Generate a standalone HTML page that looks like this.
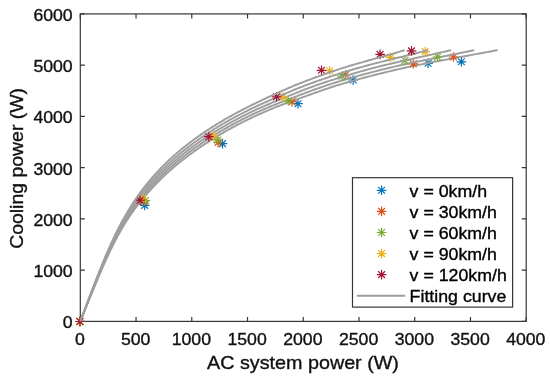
<!DOCTYPE html>
<html><head><meta charset="utf-8"><title>Cooling power vs AC system power</title>
<style>html,body{margin:0;padding:0;background:#fff}body{width:550px;height:380px;overflow:hidden}</style></head>
<body>
<svg width="550" height="380" viewBox="0 0 550 380" style="display:block">
<rect width="550" height="380" fill="#fff"/>
<rect x="80.3" y="13.9" width="445.90" height="307.50" fill="none" stroke="#363636" stroke-width="1.2"/>
<path d="M80.30 321.4V316.9M80.30 13.9V18.4M136.04 321.4V316.9M136.04 13.9V18.4M191.78 321.4V316.9M191.78 13.9V18.4M247.51 321.4V316.9M247.51 13.9V18.4M303.25 321.4V316.9M303.25 13.9V18.4M358.99 321.4V316.9M358.99 13.9V18.4M414.73 321.4V316.9M414.73 13.9V18.4M470.46 321.4V316.9M470.46 13.9V18.4M526.20 321.4V316.9M526.20 13.9V18.4M80.3 321.40H84.8M526.2 321.40H521.7M80.3 270.15H84.8M526.2 270.15H521.7M80.3 218.90H84.8M526.2 218.90H521.7M80.3 167.65H84.8M526.2 167.65H521.7M80.3 116.40H84.8M526.2 116.40H521.7M80.3 65.15H84.8M526.2 65.15H521.7M80.3 13.90H84.8M526.2 13.90H521.7" stroke="#363636" stroke-width="1.2" fill="none"/>
<g>
<path d="M75.10 321.50H84.70M79.90 316.70V326.30M76.51 318.11L83.29 324.89M76.51 324.89L83.29 318.11" stroke="#0072BD" stroke-width="1.2" fill="none"/>
<path d="M139.90 205.40H149.50M144.70 200.60V210.20M141.31 202.01L148.09 208.79M141.31 208.79L148.09 202.01" stroke="#0072BD" stroke-width="1.2" fill="none"/>
<path d="M217.70 143.60H227.30M222.50 138.80V148.40M219.11 140.21L225.89 146.99M219.11 146.99L225.89 140.21" stroke="#0072BD" stroke-width="1.2" fill="none"/>
<path d="M293.20 103.70H302.80M298.00 98.90V108.50M294.61 100.31L301.39 107.09M294.61 107.09L301.39 100.31" stroke="#0072BD" stroke-width="1.2" fill="none"/>
<path d="M348.40 80.00H358.00M353.20 75.20V84.80M349.81 76.61L356.59 83.39M349.81 83.39L356.59 76.61" stroke="#0072BD" stroke-width="1.2" fill="none"/>
<path d="M423.30 63.30H432.90M428.10 58.50V68.10M424.71 59.91L431.49 66.69M424.71 66.69L431.49 59.91" stroke="#0072BD" stroke-width="1.2" fill="none"/>
<path d="M456.60 61.80H466.20M461.40 57.00V66.60M458.01 58.41L464.79 65.19M458.01 65.19L464.79 58.41" stroke="#0072BD" stroke-width="1.2" fill="none"/>
<path d="M80.30 321.40 L80.58 320.72 L80.85 320.04 L81.13 319.36 L81.40 318.68 L81.68 318.00 L81.95 317.32 L82.23 316.64 L82.50 315.96 L82.78 315.28 L83.06 314.60 L83.33 313.92 L83.61 313.24 L83.88 312.56 L84.16 311.88 L84.43 311.20 L84.71 310.52 L84.99 309.84 L85.26 309.16 L85.54 308.48 L85.81 307.80 L86.09 307.12 L86.36 306.44 L86.64 305.76 L86.92 305.08 L87.19 304.40 L87.47 303.72 L87.75 303.04 L88.02 302.36 L88.30 301.68 L88.57 301.00 L88.85 300.32 L89.13 299.64 L89.41 298.96 L89.68 298.28 L89.96 297.60 L90.24 296.92 L90.51 296.24 L90.79 295.56 L91.07 294.88 L91.35 294.20 L91.63 293.52 L91.90 292.84 L92.18 292.16 L92.46 291.48 L92.74 290.80 L93.02 290.12 L93.30 289.44 L93.58 288.76 L93.86 288.08 L94.14 287.40 L94.42 286.72 L94.70 286.04 L94.98 285.36 L95.27 284.68 L95.55 284.00 L95.83 283.32 L96.11 282.64 L96.40 281.96 L96.68 281.28 L96.96 280.60 L97.25 279.92 L97.53 279.24 L97.82 278.56 L98.11 277.88 L98.39 277.20 L98.68 276.52 L98.97 275.84 L99.25 275.16 L99.54 274.48 L99.83 273.80 L100.12 273.12 L100.41 272.44 L100.70 271.76 L100.99 271.08 L101.29 270.40 L101.58 269.72 L101.87 269.04 L102.17 268.36 L102.46 267.68 L102.76 267.00 L103.06 266.32 L103.36 265.64 L103.66 264.96 L103.96 264.28 L104.26 263.60 L104.57 262.92 L104.87 262.24 L105.18 261.56 L105.48 260.88 L105.79 260.20 L106.10 259.52 L106.41 258.84 L106.73 258.16 L107.04 257.48 L107.35 256.80 L107.67 256.12 L107.99 255.44 L108.31 254.76 L108.63 254.08 L108.95 253.40 L109.27 252.72 L109.60 252.04 L109.93 251.36 L110.25 250.68 L110.58 250.00 L110.91 249.32 L111.24 248.64 L111.58 247.96 L111.91 247.28 L112.25 246.60 L112.59 245.92 L112.93 245.24 L113.27 244.56 L113.61 243.88 L113.96 243.20 L114.31 242.52 L114.65 241.84 L115.01 241.16 L115.36 240.48 L115.71 239.80 L116.07 239.12 L116.43 238.44 L116.79 237.76 L117.16 237.08 L117.52 236.40 L117.89 235.72 L118.27 235.04 L118.64 234.36 L119.01 233.68 L119.39 233.00 L119.77 232.32 L120.16 231.64 L120.54 230.96 L120.93 230.28 L121.32 229.60 L121.72 228.92 L122.12 228.24 L122.51 227.56 L122.92 226.88 L123.32 226.20 L123.73 225.52 L124.14 224.84 L124.55 224.16 L124.97 223.48 L125.39 222.80 L125.81 222.12 L126.24 221.44 L126.67 220.76 L127.10 220.08 L127.53 219.40 L127.97 218.72 L128.42 218.04 L128.86 217.36 L129.31 216.68 L129.77 216.00 L130.23 215.32 L130.69 214.64 L131.16 213.96 L131.63 213.28 L132.11 212.60 L132.59 211.92 L133.08 211.24 L133.57 210.56 L134.07 209.88 L134.56 209.20 L135.07 208.52 L135.58 207.84 L136.09 207.16 L136.61 206.48 L137.13 205.80 L137.65 205.12 L138.18 204.44 L138.72 203.76 L139.26 203.08 L139.80 202.40 L140.35 201.72 L140.90 201.04 L141.45 200.36 L142.01 199.68 L142.58 199.00 L143.15 198.32 L143.72 197.64 L144.29 196.96 L144.87 196.28 L145.46 195.60 L146.05 194.92 L146.64 194.24 L147.23 193.56 L147.83 192.88 L148.44 192.20 L149.04 191.52 L149.65 190.84 L150.27 190.16 L150.88 189.48 L151.51 188.80 L152.13 188.12 L152.76 187.44 L153.39 186.76 L154.03 186.08 L154.67 185.40 L155.31 184.72 L155.96 184.04 L156.62 183.36 L157.28 182.68 L157.94 182.00 L158.61 181.32 L159.28 180.64 L159.96 179.96 L160.65 179.28 L161.34 178.60 L162.03 177.92 L162.73 177.24 L163.44 176.56 L164.15 175.88 L164.87 175.20 L165.60 174.52 L166.33 173.84 L167.06 173.16 L167.80 172.48 L168.55 171.80 L169.31 171.12 L170.07 170.44 L170.84 169.76 L171.62 169.08 L172.40 168.40 L173.19 167.72 L173.99 167.04 L174.80 166.36 L175.61 165.68 L176.44 165.00 L177.27 164.32 L178.11 163.64 L178.96 162.96 L179.81 162.28 L180.68 161.60 L181.54 160.92 L182.42 160.24 L183.30 159.56 L184.18 158.88 L185.07 158.20 L185.97 157.52 L186.87 156.84 L187.77 156.16 L188.68 155.48 L189.58 154.80 L190.50 154.12 L191.42 153.44 L192.35 152.76 L193.28 152.08 L194.22 151.40 L195.17 150.72 L196.12 150.04 L197.09 149.36 L198.05 148.68 L199.03 148.00 L200.02 147.32 L201.01 146.64 L202.01 145.96 L203.01 145.28 L204.03 144.60 L205.05 143.92 L206.09 143.24 L207.13 142.56 L208.18 141.88 L209.23 141.20 L210.30 140.52 L211.37 139.84 L212.46 139.16 L213.55 138.48 L214.65 137.80 L215.77 137.12 L216.89 136.44 L218.02 135.76 L219.16 135.08 L220.31 134.40 L221.47 133.72 L222.64 133.04 L223.81 132.36 L225.00 131.68 L226.20 131.00 L227.40 130.32 L228.62 129.64 L229.84 128.96 L231.08 128.28 L232.32 127.60 L233.58 126.92 L234.85 126.24 L236.12 125.56 L237.41 124.88 L238.71 124.20 L240.03 123.52 L241.35 122.84 L242.68 122.16 L244.03 121.48 L245.39 120.80 L246.76 120.12 L248.14 119.44 L249.54 118.76 L250.96 118.08 L252.39 117.40 L253.83 116.72 L255.29 116.04 L256.76 115.36 L258.25 114.68 L259.76 114.00 L261.28 113.32 L262.81 112.64 L264.36 111.96 L265.93 111.28 L267.51 110.60 L269.11 109.92 L270.73 109.24 L272.36 108.56 L274.01 107.88 L275.69 107.20 L277.41 106.52 L279.15 105.84 L280.93 105.16 L282.74 104.48 L284.57 103.80 L286.42 103.12 L288.29 102.44 L290.18 101.76 L292.09 101.08 L294.00 100.40 L295.90 99.72 L297.80 99.04 L299.69 98.36 L301.57 97.68 L303.45 97.00 L305.33 96.32 L307.21 95.64 L309.10 94.96 L310.99 94.28 L312.89 93.60 L314.79 92.92 L316.71 92.24 L318.64 91.56 L320.59 90.88 L322.55 90.20 L324.53 89.52 L326.54 88.84 L328.57 88.16 L330.63 87.48 L332.72 86.80 L334.84 86.12 L337.01 85.44 L339.21 84.76 L341.46 84.08 L343.75 83.40 L346.07 82.72 L348.42 82.04 L350.80 81.36 L353.22 80.68 L355.66 80.00 L358.13 79.32 L360.63 78.64 L363.17 77.96 L365.73 77.28 L368.32 76.60 L370.94 75.92 L373.59 75.24 L376.27 74.56 L378.98 73.88 L381.72 73.20 L384.49 72.52 L387.29 71.84 L390.12 71.16 L392.98 70.48 L395.86 69.80 L398.78 69.12 L401.76 68.44 L404.82 67.76 L407.95 67.08 L411.16 66.40 L414.43 65.72 L417.77 65.04 L421.17 64.36 L424.62 63.68 L428.12 63.00 L431.65 62.32 L435.21 61.64 L438.79 60.96 L442.38 60.28 L445.98 59.60 L449.62 58.92 L453.32 58.24 L457.06 57.56 L460.84 56.88 L464.63 56.20 L468.43 55.52 L472.22 54.84 L475.98 54.16 L479.69 53.48 L483.35 52.80 L486.96 52.12 L490.51 51.44 L494.03 50.76 L497.50 50.08" stroke="#9e9e9e" stroke-width="1.95" fill="none" stroke-linejoin="round"/>
<path d="M75.10 321.50H84.70M79.90 316.70V326.30M76.51 318.11L83.29 324.89M76.51 324.89L83.29 318.11" stroke="#D95319" stroke-width="1.2" fill="none"/>
<path d="M139.30 201.20H148.90M144.10 196.40V206.00M140.71 197.81L147.49 204.59M140.71 204.59L147.49 197.81" stroke="#D95319" stroke-width="1.2" fill="none"/>
<path d="M213.30 142.40H222.90M218.10 137.60V147.20M214.71 139.01L221.49 145.79M214.71 145.79L221.49 139.01" stroke="#D95319" stroke-width="1.2" fill="none"/>
<path d="M287.20 101.70H296.80M292.00 96.90V106.50M288.61 98.31L295.39 105.09M288.61 105.09L295.39 98.31" stroke="#D95319" stroke-width="1.2" fill="none"/>
<path d="M340.80 74.80H350.40M345.60 70.00V79.60M342.21 71.41L348.99 78.19M342.21 78.19L348.99 71.41" stroke="#D95319" stroke-width="1.2" fill="none"/>
<path d="M408.50 63.80H418.10M413.30 59.00V68.60M409.91 60.41L416.69 67.19M409.91 67.19L416.69 60.41" stroke="#D95319" stroke-width="1.2" fill="none"/>
<path d="M448.70 57.00H458.30M453.50 52.20V61.80M450.11 53.61L456.89 60.39M450.11 60.39L456.89 53.61" stroke="#D95319" stroke-width="1.2" fill="none"/>
<path d="M80.30 321.40 L80.57 320.72 L80.84 320.04 L81.11 319.36 L81.38 318.68 L81.65 318.00 L81.92 317.32 L82.19 316.64 L82.46 315.96 L82.73 315.28 L83.00 314.60 L83.27 313.92 L83.55 313.24 L83.82 312.56 L84.09 311.88 L84.36 311.20 L84.63 310.52 L84.90 309.84 L85.17 309.16 L85.44 308.48 L85.71 307.80 L85.98 307.12 L86.25 306.44 L86.52 305.76 L86.79 305.08 L87.06 304.40 L87.34 303.72 L87.61 303.04 L87.88 302.36 L88.15 301.68 L88.42 301.00 L88.69 300.32 L88.96 299.64 L89.24 298.96 L89.51 298.28 L89.78 297.60 L90.05 296.92 L90.33 296.24 L90.60 295.56 L90.87 294.88 L91.14 294.20 L91.42 293.52 L91.69 292.84 L91.96 292.16 L92.24 291.48 L92.51 290.80 L92.79 290.12 L93.06 289.44 L93.33 288.76 L93.61 288.08 L93.88 287.40 L94.16 286.72 L94.44 286.04 L94.71 285.36 L94.99 284.68 L95.27 284.00 L95.54 283.32 L95.82 282.64 L96.10 281.96 L96.38 281.28 L96.66 280.60 L96.94 279.92 L97.21 279.24 L97.50 278.56 L97.78 277.88 L98.06 277.20 L98.34 276.52 L98.62 275.84 L98.90 275.16 L99.19 274.48 L99.47 273.80 L99.75 273.12 L100.04 272.44 L100.32 271.76 L100.61 271.08 L100.90 270.40 L101.18 269.72 L101.47 269.04 L101.76 268.36 L102.05 267.68 L102.34 267.00 L102.64 266.32 L102.93 265.64 L103.22 264.96 L103.52 264.28 L103.81 263.60 L104.11 262.92 L104.41 262.24 L104.71 261.56 L105.01 260.88 L105.31 260.20 L105.62 259.52 L105.92 258.84 L106.22 258.16 L106.53 257.48 L106.84 256.80 L107.15 256.12 L107.46 255.44 L107.77 254.76 L108.08 254.08 L108.40 253.40 L108.71 252.72 L109.03 252.04 L109.35 251.36 L109.67 250.68 L109.99 250.00 L110.31 249.32 L110.64 248.64 L110.96 247.96 L111.29 247.28 L111.62 246.60 L111.95 245.92 L112.28 245.24 L112.61 244.56 L112.95 243.88 L113.28 243.20 L113.62 242.52 L113.96 241.84 L114.30 241.16 L114.65 240.48 L114.99 239.80 L115.34 239.12 L115.69 238.44 L116.04 237.76 L116.40 237.08 L116.75 236.40 L117.11 235.72 L117.47 235.04 L117.83 234.36 L118.20 233.68 L118.57 233.00 L118.94 232.32 L119.31 231.64 L119.68 230.96 L120.06 230.28 L120.44 229.60 L120.82 228.92 L121.20 228.24 L121.59 227.56 L121.98 226.88 L122.37 226.20 L122.77 225.52 L123.16 224.84 L123.57 224.16 L123.97 223.48 L124.37 222.80 L124.78 222.12 L125.19 221.44 L125.61 220.76 L126.03 220.08 L126.45 219.40 L126.87 218.72 L127.30 218.04 L127.73 217.36 L128.16 216.68 L128.60 216.00 L129.04 215.32 L129.49 214.64 L129.94 213.96 L130.39 213.28 L130.85 212.60 L131.31 211.92 L131.78 211.24 L132.25 210.56 L132.72 209.88 L133.20 209.20 L133.68 208.52 L134.17 207.84 L134.66 207.16 L135.16 206.48 L135.65 205.80 L136.16 205.12 L136.66 204.44 L137.17 203.76 L137.69 203.08 L138.21 202.40 L138.73 201.72 L139.26 201.04 L139.79 200.36 L140.32 199.68 L140.86 199.00 L141.40 198.32 L141.95 197.64 L142.50 196.96 L143.05 196.28 L143.61 195.60 L144.17 194.92 L144.74 194.24 L145.31 193.56 L145.88 192.88 L146.46 192.20 L147.04 191.52 L147.62 190.84 L148.21 190.16 L148.80 189.48 L149.40 188.80 L149.99 188.12 L150.60 187.44 L151.20 186.76 L151.81 186.08 L152.43 185.40 L153.05 184.72 L153.67 184.04 L154.30 183.36 L154.93 182.68 L155.57 182.00 L156.21 181.32 L156.86 180.64 L157.51 179.96 L158.17 179.28 L158.83 178.60 L159.50 177.92 L160.18 177.24 L160.85 176.56 L161.54 175.88 L162.23 175.20 L162.92 174.52 L163.63 173.84 L164.33 173.16 L165.05 172.48 L165.77 171.80 L166.49 171.12 L167.22 170.44 L167.96 169.76 L168.71 169.08 L169.46 168.40 L170.22 167.72 L170.98 167.04 L171.76 166.36 L172.54 165.68 L173.33 165.00 L174.12 164.32 L174.93 163.64 L175.74 162.96 L176.55 162.28 L177.38 161.60 L178.21 160.92 L179.04 160.24 L179.89 159.56 L180.73 158.88 L181.59 158.20 L182.44 157.52 L183.31 156.84 L184.17 156.16 L185.04 155.48 L185.92 154.80 L186.80 154.12 L187.68 153.44 L188.58 152.76 L189.48 152.08 L190.38 151.40 L191.30 150.72 L192.22 150.04 L193.14 149.36 L194.08 148.68 L195.02 148.00 L195.97 147.32 L196.92 146.64 L197.89 145.96 L198.86 145.28 L199.84 144.60 L200.82 143.92 L201.82 143.24 L202.82 142.56 L203.83 141.88 L204.85 141.20 L205.88 140.52 L206.92 139.84 L207.96 139.16 L209.02 138.48 L210.08 137.80 L211.15 137.12 L212.23 136.44 L213.32 135.76 L214.42 135.08 L215.53 134.40 L216.64 133.72 L217.77 133.04 L218.90 132.36 L220.05 131.68 L221.20 131.00 L222.36 130.32 L223.53 129.64 L224.71 128.96 L225.90 128.28 L227.10 127.60 L228.31 126.92 L229.53 126.24 L230.76 125.56 L232.00 124.88 L233.25 124.20 L234.51 123.52 L235.79 122.84 L237.07 122.16 L238.37 121.48 L239.67 120.80 L240.99 120.12 L242.32 119.44 L243.66 118.76 L245.02 118.08 L246.39 117.40 L247.77 116.72 L249.17 116.04 L250.58 115.36 L252.01 114.68 L253.45 114.00 L254.90 113.32 L256.36 112.64 L257.85 111.96 L259.34 111.28 L260.85 110.60 L262.38 109.92 L263.92 109.24 L265.47 108.56 L267.04 107.88 L268.64 107.20 L270.26 106.52 L271.91 105.84 L273.59 105.16 L275.29 104.48 L277.01 103.80 L278.75 103.12 L280.51 102.44 L282.28 101.76 L284.07 101.08 L285.86 100.40 L287.65 99.72 L289.43 99.04 L291.21 98.36 L292.98 97.68 L294.75 97.00 L296.53 96.32 L298.31 95.64 L300.09 94.96 L301.87 94.28 L303.67 93.60 L305.47 92.92 L307.28 92.24 L309.10 91.56 L310.94 90.88 L312.79 90.20 L314.67 89.52 L316.56 88.84 L318.47 88.16 L320.41 87.48 L322.38 86.80 L324.38 86.12 L326.42 85.44 L328.49 84.76 L330.60 84.08 L332.75 83.40 L334.93 82.72 L337.13 82.04 L339.36 81.36 L341.61 80.68 L343.89 80.00 L346.20 79.32 L348.53 78.64 L350.89 77.96 L353.28 77.28 L355.69 76.60 L358.12 75.92 L360.59 75.24 L363.08 74.56 L365.59 73.88 L368.13 73.20 L370.70 72.52 L373.29 71.84 L375.91 71.16 L378.55 70.48 L381.22 69.80 L383.92 69.12 L386.68 68.44 L389.50 67.76 L392.39 67.08 L395.35 66.40 L398.38 65.72 L401.46 65.04 L404.59 64.36 L407.76 63.68 L410.98 63.00 L414.23 62.32 L417.50 61.64 L420.79 60.96 L424.08 60.28 L427.38 59.60 L430.72 58.92 L434.11 58.24 L437.53 57.56 L440.99 56.88 L444.46 56.20 L447.93 55.52 L451.38 54.84 L454.81 54.16 L458.19 53.48 L461.51 52.80 L464.78 52.12 L468.00 51.44 L471.17 50.76 L474.31 50.08" stroke="#9e9e9e" stroke-width="1.95" fill="none" stroke-linejoin="round"/>
<path d="M75.10 321.50H84.70M79.90 316.70V326.30M76.51 318.11L83.29 324.89M76.51 324.89L83.29 318.11" stroke="#77AC30" stroke-width="1.2" fill="none"/>
<path d="M140.60 200.50H150.20M145.40 195.70V205.30M142.01 197.11L148.79 203.89M142.01 203.89L148.79 197.11" stroke="#77AC30" stroke-width="1.2" fill="none"/>
<path d="M212.90 140.00H222.50M217.70 135.20V144.80M214.31 136.61L221.09 143.39M214.31 143.39L221.09 136.61" stroke="#77AC30" stroke-width="1.2" fill="none"/>
<path d="M283.40 100.80H293.00M288.20 96.00V105.60M284.81 97.41L291.59 104.19M284.81 104.19L291.59 97.41" stroke="#77AC30" stroke-width="1.2" fill="none"/>
<path d="M337.20 76.20H346.80M342.00 71.40V81.00M338.61 72.81L345.39 79.59M338.61 79.59L345.39 72.81" stroke="#77AC30" stroke-width="1.2" fill="none"/>
<path d="M400.20 60.50H409.80M405.00 55.70V65.30M401.61 57.11L408.39 63.89M401.61 63.89L408.39 57.11" stroke="#77AC30" stroke-width="1.2" fill="none"/>
<path d="M432.70 57.00H442.30M437.50 52.20V61.80M434.11 53.61L440.89 60.39M434.11 60.39L440.89 53.61" stroke="#77AC30" stroke-width="1.2" fill="none"/>
<path d="M80.30 321.40 L80.57 320.72 L80.83 320.04 L81.10 319.36 L81.36 318.68 L81.63 318.00 L81.89 317.32 L82.16 316.64 L82.42 315.96 L82.69 315.28 L82.95 314.60 L83.22 313.92 L83.48 313.24 L83.75 312.56 L84.02 311.88 L84.28 311.20 L84.55 310.52 L84.81 309.84 L85.08 309.16 L85.34 308.48 L85.61 307.80 L85.87 307.12 L86.14 306.44 L86.41 305.76 L86.67 305.08 L86.94 304.40 L87.20 303.72 L87.47 303.04 L87.74 302.36 L88.00 301.68 L88.27 301.00 L88.53 300.32 L88.80 299.64 L89.07 298.96 L89.33 298.28 L89.60 297.60 L89.87 296.92 L90.14 296.24 L90.40 295.56 L90.67 294.88 L90.94 294.20 L91.21 293.52 L91.48 292.84 L91.74 292.16 L92.01 291.48 L92.28 290.80 L92.55 290.12 L92.82 289.44 L93.09 288.76 L93.36 288.08 L93.63 287.40 L93.90 286.72 L94.17 286.04 L94.44 285.36 L94.71 284.68 L94.98 284.00 L95.26 283.32 L95.53 282.64 L95.80 281.96 L96.07 281.28 L96.35 280.60 L96.62 279.92 L96.90 279.24 L97.17 278.56 L97.45 277.88 L97.72 277.20 L98.00 276.52 L98.27 275.84 L98.55 275.16 L98.83 274.48 L99.11 273.80 L99.39 273.12 L99.67 272.44 L99.95 271.76 L100.23 271.08 L100.51 270.40 L100.79 269.72 L101.07 269.04 L101.36 268.36 L101.64 267.68 L101.93 267.00 L102.21 266.32 L102.50 265.64 L102.79 264.96 L103.08 264.28 L103.37 263.60 L103.66 262.92 L103.95 262.24 L104.24 261.56 L104.54 260.88 L104.83 260.20 L105.13 259.52 L105.43 258.84 L105.72 258.16 L106.02 257.48 L106.32 256.80 L106.63 256.12 L106.93 255.44 L107.23 254.76 L107.54 254.08 L107.84 253.40 L108.15 252.72 L108.46 252.04 L108.77 251.36 L109.08 250.68 L109.40 250.00 L109.71 249.32 L110.03 248.64 L110.34 247.96 L110.66 247.28 L110.98 246.60 L111.30 245.92 L111.63 245.24 L111.95 244.56 L112.28 243.88 L112.60 243.20 L112.93 242.52 L113.26 241.84 L113.60 241.16 L113.93 240.48 L114.27 239.80 L114.61 239.12 L114.95 238.44 L115.29 237.76 L115.63 237.08 L115.98 236.40 L116.33 235.72 L116.68 235.04 L117.03 234.36 L117.38 233.68 L117.74 233.00 L118.10 232.32 L118.46 231.64 L118.82 230.96 L119.18 230.28 L119.55 229.60 L119.92 228.92 L120.29 228.24 L120.67 227.56 L121.04 226.88 L121.42 226.20 L121.81 225.52 L122.19 224.84 L122.58 224.16 L122.97 223.48 L123.36 222.80 L123.75 222.12 L124.15 221.44 L124.55 220.76 L124.95 220.08 L125.36 219.40 L125.76 218.72 L126.18 218.04 L126.59 217.36 L127.01 216.68 L127.43 216.00 L127.86 215.32 L128.28 214.64 L128.72 213.96 L129.15 213.28 L129.59 212.60 L130.03 211.92 L130.48 211.24 L130.93 210.56 L131.38 209.88 L131.84 209.20 L132.30 208.52 L132.77 207.84 L133.23 207.16 L133.71 206.48 L134.18 205.80 L134.66 205.12 L135.14 204.44 L135.63 203.76 L136.12 203.08 L136.61 202.40 L137.11 201.72 L137.61 201.04 L138.12 200.36 L138.63 199.68 L139.14 199.00 L139.66 198.32 L140.18 197.64 L140.70 196.96 L141.23 196.28 L141.76 195.60 L142.30 194.92 L142.84 194.24 L143.38 193.56 L143.93 192.88 L144.48 192.20 L145.03 191.52 L145.59 190.84 L146.15 190.16 L146.72 189.48 L147.28 188.80 L147.86 188.12 L148.43 187.44 L149.01 186.76 L149.60 186.08 L150.19 185.40 L150.78 184.72 L151.38 184.04 L151.98 183.36 L152.59 182.68 L153.20 182.00 L153.82 181.32 L154.44 180.64 L155.07 179.96 L155.70 179.28 L156.33 178.60 L156.97 177.92 L157.62 177.24 L158.27 176.56 L158.93 175.88 L159.59 175.20 L160.25 174.52 L160.93 173.84 L161.61 173.16 L162.29 172.48 L162.98 171.80 L163.67 171.12 L164.38 170.44 L165.08 169.76 L165.80 169.08 L166.52 168.40 L167.24 167.72 L167.97 167.04 L168.71 166.36 L169.46 165.68 L170.21 165.00 L170.97 164.32 L171.74 163.64 L172.51 162.96 L173.29 162.28 L174.08 161.60 L174.87 160.92 L175.67 160.24 L176.47 159.56 L177.28 158.88 L178.10 158.20 L178.92 157.52 L179.75 156.84 L180.58 156.16 L181.41 155.48 L182.25 154.80 L183.10 154.12 L183.95 153.44 L184.81 152.76 L185.67 152.08 L186.54 151.40 L187.42 150.72 L188.31 150.04 L189.20 149.36 L190.10 148.68 L191.00 148.00 L191.92 147.32 L192.84 146.64 L193.77 145.96 L194.70 145.28 L195.64 144.60 L196.59 143.92 L197.55 143.24 L198.52 142.56 L199.49 141.88 L200.47 141.20 L201.46 140.52 L202.46 139.84 L203.47 139.16 L204.48 138.48 L205.50 137.80 L206.53 137.12 L207.57 136.44 L208.62 135.76 L209.68 135.08 L210.74 134.40 L211.82 133.72 L212.90 133.04 L213.99 132.36 L215.09 131.68 L216.20 131.00 L217.32 130.32 L218.44 129.64 L219.58 128.96 L220.72 128.28 L221.88 127.60 L223.04 126.92 L224.21 126.24 L225.40 125.56 L226.59 124.88 L227.79 124.20 L229.00 123.52 L230.23 122.84 L231.46 122.16 L232.70 121.48 L233.96 120.80 L235.22 120.12 L236.50 119.44 L237.78 118.76 L239.08 118.08 L240.39 117.40 L241.72 116.72 L243.05 116.04 L244.40 115.36 L245.76 114.68 L247.13 114.00 L248.52 113.32 L249.92 112.64 L251.33 111.96 L252.75 111.28 L254.19 110.60 L255.64 109.92 L257.10 109.24 L258.58 108.56 L260.07 107.88 L261.58 107.20 L263.11 106.52 L264.67 105.84 L266.24 105.16 L267.84 104.48 L269.45 103.80 L271.07 103.12 L272.72 102.44 L274.37 101.76 L276.04 101.08 L277.72 100.40 L279.39 99.72 L281.06 99.04 L282.73 98.36 L284.39 97.68 L286.06 97.00 L287.73 96.32 L289.40 95.64 L291.08 94.96 L292.76 94.28 L294.44 93.60 L296.14 92.92 L297.85 92.24 L299.56 91.56 L301.29 90.88 L303.04 90.20 L304.80 89.52 L306.58 88.84 L308.38 88.16 L310.20 87.48 L312.05 86.80 L313.92 86.12 L315.83 85.44 L317.77 84.76 L319.74 84.08 L321.75 83.40 L323.78 82.72 L325.84 82.04 L327.91 81.36 L330.01 80.68 L332.13 80.00 L334.27 79.32 L336.43 78.64 L338.62 77.96 L340.83 77.28 L343.06 76.60 L345.31 75.92 L347.58 75.24 L349.88 74.56 L352.20 73.88 L354.54 73.20 L356.90 72.52 L359.29 71.84 L361.70 71.16 L364.13 70.48 L366.58 69.80 L369.06 69.12 L371.59 68.44 L374.18 67.76 L376.84 67.08 L379.55 66.40 L382.32 65.72 L385.14 65.04 L388.00 64.36 L390.91 63.68 L393.84 63.00 L396.81 62.32 L399.79 61.64 L402.78 60.96 L405.78 60.28 L408.78 59.60 L411.82 58.92 L414.89 58.24 L418.00 57.56 L421.14 56.88 L424.28 56.20 L427.42 55.52 L430.54 54.84 L433.64 54.16 L436.68 53.48 L439.67 52.80 L442.60 52.12 L445.48 51.44 L448.32 50.76 L451.12 50.08" stroke="#9e9e9e" stroke-width="1.95" fill="none" stroke-linejoin="round"/>
<path d="M75.10 321.50H84.70M79.90 316.70V326.30M76.51 318.11L83.29 324.89M76.51 324.89L83.29 318.11" stroke="#EDB120" stroke-width="1.2" fill="none"/>
<path d="M138.00 198.50H147.60M142.80 193.70V203.30M139.41 195.11L146.19 201.89M139.41 201.89L146.19 195.11" stroke="#EDB120" stroke-width="1.2" fill="none"/>
<path d="M208.50 136.00H218.10M213.30 131.20V140.80M209.91 132.61L216.69 139.39M209.91 139.39L216.69 132.61" stroke="#EDB120" stroke-width="1.2" fill="none"/>
<path d="M278.20 96.80H287.80M283.00 92.00V101.60M279.61 93.41L286.39 100.19M279.61 100.19L286.39 93.41" stroke="#EDB120" stroke-width="1.2" fill="none"/>
<path d="M324.90 70.70H334.50M329.70 65.90V75.50M326.31 67.31L333.09 74.09M326.31 74.09L333.09 67.31" stroke="#EDB120" stroke-width="1.2" fill="none"/>
<path d="M385.60 57.40H395.20M390.40 52.60V62.20M387.01 54.01L393.79 60.79M387.01 60.79L393.79 54.01" stroke="#EDB120" stroke-width="1.2" fill="none"/>
<path d="M420.40 51.60H430.00M425.20 46.80V56.40M421.81 48.21L428.59 54.99M421.81 54.99L428.59 48.21" stroke="#EDB120" stroke-width="1.2" fill="none"/>
<path d="M80.30 321.40 L80.56 320.72 L80.82 320.04 L81.08 319.36 L81.34 318.68 L81.60 318.00 L81.86 317.32 L82.12 316.64 L82.38 315.96 L82.64 315.28 L82.90 314.60 L83.16 313.92 L83.42 313.24 L83.68 312.56 L83.94 311.88 L84.20 311.20 L84.46 310.52 L84.72 309.84 L84.99 309.16 L85.25 308.48 L85.51 307.80 L85.77 307.12 L86.03 306.44 L86.29 305.76 L86.55 305.08 L86.81 304.40 L87.07 303.72 L87.33 303.04 L87.59 302.36 L87.85 301.68 L88.11 301.00 L88.38 300.32 L88.64 299.64 L88.90 298.96 L89.16 298.28 L89.42 297.60 L89.68 296.92 L89.95 296.24 L90.21 295.56 L90.47 294.88 L90.73 294.20 L91.00 293.52 L91.26 292.84 L91.52 292.16 L91.79 291.48 L92.05 290.80 L92.31 290.12 L92.58 289.44 L92.84 288.76 L93.11 288.08 L93.37 287.40 L93.64 286.72 L93.90 286.04 L94.17 285.36 L94.43 284.68 L94.70 284.00 L94.97 283.32 L95.24 282.64 L95.50 281.96 L95.77 281.28 L96.04 280.60 L96.31 279.92 L96.58 279.24 L96.85 278.56 L97.12 277.88 L97.39 277.20 L97.66 276.52 L97.93 275.84 L98.20 275.16 L98.47 274.48 L98.75 273.80 L99.02 273.12 L99.29 272.44 L99.57 271.76 L99.84 271.08 L100.12 270.40 L100.40 269.72 L100.67 269.04 L100.95 268.36 L101.23 267.68 L101.51 267.00 L101.79 266.32 L102.07 265.64 L102.35 264.96 L102.64 264.28 L102.92 263.60 L103.20 262.92 L103.49 262.24 L103.78 261.56 L104.06 260.88 L104.35 260.20 L104.64 259.52 L104.93 258.84 L105.22 258.16 L105.52 257.48 L105.81 256.80 L106.10 256.12 L106.40 255.44 L106.70 254.76 L106.99 254.08 L107.29 253.40 L107.59 252.72 L107.89 252.04 L108.20 251.36 L108.50 250.68 L108.80 250.00 L109.11 249.32 L109.42 248.64 L109.73 247.96 L110.04 247.28 L110.35 246.60 L110.66 245.92 L110.98 245.24 L111.29 244.56 L111.61 243.88 L111.93 243.20 L112.25 242.52 L112.57 241.84 L112.89 241.16 L113.22 240.48 L113.54 239.80 L113.87 239.12 L114.20 238.44 L114.54 237.76 L114.87 237.08 L115.20 236.40 L115.54 235.72 L115.88 235.04 L116.22 234.36 L116.57 233.68 L116.91 233.00 L117.26 232.32 L117.61 231.64 L117.96 230.96 L118.31 230.28 L118.67 229.60 L119.02 228.92 L119.38 228.24 L119.74 227.56 L120.11 226.88 L120.47 226.20 L120.84 225.52 L121.21 224.84 L121.59 224.16 L121.96 223.48 L122.34 222.80 L122.72 222.12 L123.10 221.44 L123.49 220.76 L123.88 220.08 L124.27 219.40 L124.66 218.72 L125.06 218.04 L125.45 217.36 L125.86 216.68 L126.26 216.00 L126.67 215.32 L127.08 214.64 L127.49 213.96 L127.91 213.28 L128.33 212.60 L128.75 211.92 L129.18 211.24 L129.61 210.56 L130.04 209.88 L130.48 209.20 L130.92 208.52 L131.36 207.84 L131.81 207.16 L132.25 206.48 L132.71 205.80 L133.16 205.12 L133.62 204.44 L134.09 203.76 L134.55 203.08 L135.02 202.40 L135.49 201.72 L135.97 201.04 L136.45 200.36 L136.93 199.68 L137.42 199.00 L137.91 198.32 L138.41 197.64 L138.91 196.96 L139.41 196.28 L139.91 195.60 L140.42 194.92 L140.94 194.24 L141.45 193.56 L141.97 192.88 L142.50 192.20 L143.02 191.52 L143.56 190.84 L144.09 190.16 L144.63 189.48 L145.17 188.80 L145.72 188.12 L146.27 187.44 L146.83 186.76 L147.39 186.08 L147.95 185.40 L148.52 184.72 L149.09 184.04 L149.67 183.36 L150.25 182.68 L150.83 182.00 L151.42 181.32 L152.02 180.64 L152.62 179.96 L153.22 179.28 L153.83 178.60 L154.44 177.92 L155.06 177.24 L155.68 176.56 L156.31 175.88 L156.95 175.20 L157.58 174.52 L158.23 173.84 L158.88 173.16 L159.53 172.48 L160.19 171.80 L160.86 171.12 L161.53 170.44 L162.20 169.76 L162.88 169.08 L163.57 168.40 L164.27 167.72 L164.97 167.04 L165.67 166.36 L166.38 165.68 L167.10 165.00 L167.83 164.32 L168.56 163.64 L169.29 162.96 L170.03 162.28 L170.78 161.60 L171.54 160.92 L172.30 160.24 L173.06 159.56 L173.84 158.88 L174.61 158.20 L175.40 157.52 L176.19 156.84 L176.98 156.16 L177.78 155.48 L178.58 154.80 L179.40 154.12 L180.21 153.44 L181.04 152.76 L181.87 152.08 L182.70 151.40 L183.55 150.72 L184.40 150.04 L185.26 149.36 L186.12 148.68 L186.99 148.00 L187.87 147.32 L188.75 146.64 L189.64 145.96 L190.54 145.28 L191.45 144.60 L192.36 143.92 L193.28 143.24 L194.21 142.56 L195.15 141.88 L196.09 141.20 L197.04 140.52 L198.00 139.84 L198.97 139.16 L199.94 138.48 L200.93 137.80 L201.92 137.12 L202.92 136.44 L203.92 135.76 L204.94 135.08 L205.96 134.40 L206.99 133.72 L208.03 133.04 L209.08 132.36 L210.14 131.68 L211.20 131.00 L212.27 130.32 L213.36 129.64 L214.45 128.96 L215.54 128.28 L216.65 127.60 L217.77 126.92 L218.90 126.24 L220.03 125.56 L221.18 124.88 L222.33 124.20 L223.49 123.52 L224.66 122.84 L225.85 122.16 L227.04 121.48 L228.24 120.80 L229.45 120.12 L230.67 119.44 L231.90 118.76 L233.15 118.08 L234.40 117.40 L235.66 116.72 L236.94 116.04 L238.22 115.36 L239.52 114.68 L240.82 114.00 L242.14 113.32 L243.47 112.64 L244.81 111.96 L246.17 111.28 L247.53 110.60 L248.90 109.92 L250.29 109.24 L251.69 108.56 L253.10 107.88 L254.52 107.20 L255.97 106.52 L257.42 105.84 L258.90 105.16 L260.38 104.48 L261.89 103.80 L263.40 103.12 L264.93 102.44 L266.47 101.76 L268.02 101.08 L269.58 100.40 L271.14 99.72 L272.69 99.04 L274.25 98.36 L275.81 97.68 L277.37 97.00 L278.93 96.32 L280.49 95.64 L282.06 94.96 L283.64 94.28 L285.22 93.60 L286.81 92.92 L288.41 92.24 L290.02 91.56 L291.64 90.88 L293.28 90.20 L294.93 89.52 L296.60 88.84 L298.28 88.16 L299.99 87.48 L301.71 86.80 L303.46 86.12 L305.24 85.44 L307.05 84.76 L308.89 84.08 L310.76 83.40 L312.64 82.72 L314.55 82.04 L316.47 81.36 L318.41 80.68 L320.36 80.00 L322.34 79.32 L324.33 78.64 L326.35 77.96 L328.38 77.28 L330.42 76.60 L332.49 75.92 L334.58 75.24 L336.68 74.56 L338.80 73.88 L340.95 73.20 L343.11 72.52 L345.29 71.84 L347.48 71.16 L349.70 70.48 L351.94 69.80 L354.19 69.12 L356.50 68.44 L358.87 67.76 L361.28 67.08 L363.75 66.40 L366.27 65.72 L368.82 65.04 L371.42 64.36 L374.05 63.68 L376.71 63.00 L379.38 62.32 L382.08 61.64 L384.78 60.96 L387.48 60.28 L390.18 59.60 L392.91 58.92 L395.68 58.24 L398.47 57.56 L401.29 56.88 L404.10 56.20 L406.92 55.52 L409.71 54.84 L412.47 54.16 L415.17 53.48 L417.83 52.80 L420.42 52.12 L422.97 51.44 L425.47 50.76 L427.93 50.08" stroke="#9e9e9e" stroke-width="1.95" fill="none" stroke-linejoin="round"/>
<path d="M75.10 321.50H84.70M79.90 316.70V326.30M76.51 318.11L83.29 324.89M76.51 324.89L83.29 318.11" stroke="#A2142F" stroke-width="1.2" fill="none"/>
<path d="M135.30 200.20H144.90M140.10 195.40V205.00M136.71 196.81L143.49 203.59M136.71 203.59L143.49 196.81" stroke="#A2142F" stroke-width="1.2" fill="none"/>
<path d="M204.00 136.70H213.60M208.80 131.90V141.50M205.41 133.31L212.19 140.09M205.41 140.09L212.19 133.31" stroke="#A2142F" stroke-width="1.2" fill="none"/>
<path d="M271.80 96.80H281.40M276.60 92.00V101.60M273.21 93.41L279.99 100.19M273.21 100.19L279.99 93.41" stroke="#A2142F" stroke-width="1.2" fill="none"/>
<path d="M316.70 70.30H326.30M321.50 65.50V75.10M318.11 66.91L324.89 73.69M318.11 73.69L324.89 66.91" stroke="#A2142F" stroke-width="1.2" fill="none"/>
<path d="M375.30 54.40H384.90M380.10 49.60V59.20M376.71 51.01L383.49 57.79M376.71 57.79L383.49 51.01" stroke="#A2142F" stroke-width="1.2" fill="none"/>
<path d="M406.70 50.90H416.30M411.50 46.10V55.70M408.11 47.51L414.89 54.29M408.11 54.29L414.89 47.51" stroke="#A2142F" stroke-width="1.2" fill="none"/>
<path d="M80.30 321.40 L80.56 320.72 L80.81 320.04 L81.07 319.36 L81.32 318.68 L81.58 318.00 L81.83 317.32 L82.09 316.64 L82.34 315.96 L82.60 315.28 L82.85 314.60 L83.11 313.92 L83.36 313.24 L83.62 312.56 L83.87 311.88 L84.13 311.20 L84.38 310.52 L84.64 309.84 L84.89 309.16 L85.15 308.48 L85.40 307.80 L85.66 307.12 L85.92 306.44 L86.17 305.76 L86.43 305.08 L86.68 304.40 L86.94 303.72 L87.19 303.04 L87.45 302.36 L87.71 301.68 L87.96 301.00 L88.22 300.32 L88.47 299.64 L88.73 298.96 L88.99 298.28 L89.24 297.60 L89.50 296.92 L89.76 296.24 L90.01 295.56 L90.27 294.88 L90.53 294.20 L90.79 293.52 L91.05 292.84 L91.30 292.16 L91.56 291.48 L91.82 290.80 L92.08 290.12 L92.34 289.44 L92.60 288.76 L92.86 288.08 L93.12 287.40 L93.38 286.72 L93.64 286.04 L93.90 285.36 L94.16 284.68 L94.42 284.00 L94.68 283.32 L94.94 282.64 L95.20 281.96 L95.47 281.28 L95.73 280.60 L95.99 279.92 L96.26 279.24 L96.52 278.56 L96.79 277.88 L97.05 277.20 L97.32 276.52 L97.58 275.84 L97.85 275.16 L98.12 274.48 L98.38 273.80 L98.65 273.12 L98.92 272.44 L99.19 271.76 L99.46 271.08 L99.73 270.40 L100.00 269.72 L100.27 269.04 L100.55 268.36 L100.82 267.68 L101.09 267.00 L101.37 266.32 L101.64 265.64 L101.92 264.96 L102.20 264.28 L102.47 263.60 L102.75 262.92 L103.03 262.24 L103.31 261.56 L103.59 260.88 L103.87 260.20 L104.15 259.52 L104.44 258.84 L104.72 258.16 L105.01 257.48 L105.29 256.80 L105.58 256.12 L105.87 255.44 L106.16 254.76 L106.45 254.08 L106.74 253.40 L107.03 252.72 L107.32 252.04 L107.62 251.36 L107.91 250.68 L108.21 250.00 L108.51 249.32 L108.81 248.64 L109.11 247.96 L109.41 247.28 L109.71 246.60 L110.02 245.92 L110.32 245.24 L110.63 244.56 L110.94 243.88 L111.25 243.20 L111.56 242.52 L111.87 241.84 L112.19 241.16 L112.50 240.48 L112.82 239.80 L113.14 239.12 L113.46 238.44 L113.78 237.76 L114.11 237.08 L114.43 236.40 L114.76 235.72 L115.09 235.04 L115.42 234.36 L115.75 233.68 L116.08 233.00 L116.42 232.32 L116.76 231.64 L117.09 230.96 L117.44 230.28 L117.78 229.60 L118.12 228.92 L118.47 228.24 L118.82 227.56 L119.17 226.88 L119.53 226.20 L119.88 225.52 L120.24 224.84 L120.60 224.16 L120.96 223.48 L121.32 222.80 L121.69 222.12 L122.06 221.44 L122.43 220.76 L122.80 220.08 L123.18 219.40 L123.56 218.72 L123.94 218.04 L124.32 217.36 L124.70 216.68 L125.09 216.00 L125.48 215.32 L125.87 214.64 L126.27 213.96 L126.67 213.28 L127.07 212.60 L127.47 211.92 L127.88 211.24 L128.29 210.56 L128.70 209.88 L129.12 209.20 L129.53 208.52 L129.95 207.84 L130.38 207.16 L130.80 206.48 L131.23 205.80 L131.67 205.12 L132.10 204.44 L132.54 203.76 L132.98 203.08 L133.43 202.40 L133.88 201.72 L134.33 201.04 L134.78 200.36 L135.24 199.68 L135.70 199.00 L136.17 198.32 L136.64 197.64 L137.11 196.96 L137.59 196.28 L138.07 195.60 L138.55 194.92 L139.03 194.24 L139.53 193.56 L140.02 192.88 L140.52 192.20 L141.02 191.52 L141.52 190.84 L142.03 190.16 L142.55 189.48 L143.06 188.80 L143.58 188.12 L144.11 187.44 L144.64 186.76 L145.17 186.08 L145.71 185.40 L146.25 184.72 L146.80 184.04 L147.35 183.36 L147.90 182.68 L148.46 182.00 L149.03 181.32 L149.59 180.64 L150.17 179.96 L150.74 179.28 L151.33 178.60 L151.91 177.92 L152.50 177.24 L153.10 176.56 L153.70 175.88 L154.30 175.20 L154.91 174.52 L155.53 173.84 L156.15 173.16 L156.77 172.48 L157.40 171.80 L158.04 171.12 L158.68 170.44 L159.32 169.76 L159.97 169.08 L160.63 168.40 L161.29 167.72 L161.96 167.04 L162.63 166.36 L163.31 165.68 L163.99 165.00 L164.68 164.32 L165.37 163.64 L166.07 162.96 L166.77 162.28 L167.49 161.60 L168.20 160.92 L168.92 160.24 L169.65 159.56 L170.39 158.88 L171.13 158.20 L171.87 157.52 L172.62 156.84 L173.38 156.16 L174.15 155.48 L174.92 154.80 L175.69 154.12 L176.48 153.44 L177.27 152.76 L178.06 152.08 L178.87 151.40 L179.67 150.72 L180.49 150.04 L181.31 149.36 L182.14 148.68 L182.98 148.00 L183.82 147.32 L184.67 146.64 L185.52 145.96 L186.39 145.28 L187.26 144.60 L188.13 143.92 L189.02 143.24 L189.91 142.56 L190.81 141.88 L191.71 141.20 L192.63 140.52 L193.55 139.84 L194.47 139.16 L195.41 138.48 L196.35 137.80 L197.30 137.12 L198.26 136.44 L199.22 135.76 L200.20 135.08 L201.18 134.40 L202.17 133.72 L203.16 133.04 L204.17 132.36 L205.18 131.68 L206.20 131.00 L207.23 130.32 L208.27 129.64 L209.31 128.96 L210.37 128.28 L211.43 127.60 L212.50 126.92 L213.58 126.24 L214.67 125.56 L215.76 124.88 L216.87 124.20 L217.98 123.52 L219.10 122.84 L220.23 122.16 L221.37 121.48 L222.52 120.80 L223.68 120.12 L224.85 119.44 L226.02 118.76 L227.21 118.08 L228.40 117.40 L229.61 116.72 L230.82 116.04 L232.04 115.36 L233.27 114.68 L234.51 114.00 L235.77 113.32 L237.03 112.64 L238.30 111.96 L239.58 111.28 L240.87 110.60 L242.17 109.92 L243.48 109.24 L244.80 108.56 L246.13 107.88 L247.47 107.20 L248.82 106.52 L250.18 105.84 L251.55 105.16 L252.93 104.48 L254.33 103.80 L255.73 103.12 L257.14 102.44 L258.57 101.76 L260.00 101.08 L261.44 100.40 L262.88 99.72 L264.33 99.04 L265.77 98.36 L267.22 97.68 L268.67 97.00 L270.13 96.32 L271.59 95.64 L273.05 94.96 L274.52 94.28 L276.00 93.60 L277.49 92.92 L278.98 92.24 L280.48 91.56 L282.00 90.88 L283.52 90.20 L285.06 89.52 L286.61 88.84 L288.18 88.16 L289.77 87.48 L291.38 86.80 L293.00 86.12 L294.65 85.44 L296.33 84.76 L298.03 84.08 L299.76 83.40 L301.50 82.72 L303.25 82.04 L305.02 81.36 L306.80 80.68 L308.60 80.00 L310.41 79.32 L312.23 78.64 L314.07 77.96 L315.93 77.28 L317.79 76.60 L319.68 75.92 L321.57 75.24 L323.48 74.56 L325.41 73.88 L327.35 73.20 L329.31 72.52 L331.28 71.84 L333.27 71.16 L335.28 70.48 L337.29 69.80 L339.33 69.12 L341.42 68.44 L343.55 67.76 L345.73 67.08 L347.95 66.40 L350.21 65.72 L352.51 65.04 L354.84 64.36 L357.19 63.68 L359.57 63.00 L361.96 62.32 L364.37 61.64 L366.77 60.96 L369.18 60.28 L371.58 59.60 L374.01 58.92 L376.47 58.24 L378.95 57.56 L381.44 56.88 L383.93 56.20 L386.41 55.52 L388.87 54.84 L391.29 54.16 L393.67 53.48 L395.98 52.80 L398.24 52.12 L400.45 51.44 L402.62 50.76 L404.73 50.08" stroke="#9e9e9e" stroke-width="1.95" fill="none" stroke-linejoin="round"/>
</g>
<g font-family="'Liberation Sans', sans-serif" font-size="17.0" fill="#111111" stroke="#111111" stroke-width="0.35">
<text transform="translate(79.90 345.3) scale(1.04 1)" text-anchor="middle">0</text>
<text transform="translate(135.64 345.3) scale(1.04 1)" text-anchor="middle">500</text>
<text transform="translate(191.38 345.3) scale(1.04 1)" text-anchor="middle">1000</text>
<text transform="translate(247.11 345.3) scale(1.04 1)" text-anchor="middle">1500</text>
<text transform="translate(302.85 345.3) scale(1.04 1)" text-anchor="middle">2000</text>
<text transform="translate(358.59 345.3) scale(1.04 1)" text-anchor="middle">2500</text>
<text transform="translate(414.33 345.3) scale(1.04 1)" text-anchor="middle">3000</text>
<text transform="translate(470.06 345.3) scale(1.04 1)" text-anchor="middle">3500</text>
<text transform="translate(525.80 345.3) scale(1.04 1)" text-anchor="middle">4000</text>
<text transform="translate(72.7 328.30) scale(1.04 1)" text-anchor="end">0</text>
<text transform="translate(72.7 277.05) scale(1.04 1)" text-anchor="end">1000</text>
<text transform="translate(72.7 225.80) scale(1.04 1)" text-anchor="end">2000</text>
<text transform="translate(72.7 174.55) scale(1.04 1)" text-anchor="end">3000</text>
<text transform="translate(72.7 123.30) scale(1.04 1)" text-anchor="end">4000</text>
<text transform="translate(72.7 72.05) scale(1.04 1)" text-anchor="end">5000</text>
<text transform="translate(72.7 20.80) scale(1.04 1)" text-anchor="end">6000</text>
</g>
<g font-family="'Liberation Sans', sans-serif" font-size="18.7" fill="#111111" stroke="#111111" stroke-width="0.35">
<text transform="translate(303.0 368.5) scale(1.056 1)" text-anchor="middle">AC system power (W)</text>
<text transform="translate(22.6 168.4) rotate(-90) scale(1.04 1)" text-anchor="middle">Cooling power (W)</text>
</g>
<rect x="352.5" y="177.7" width="160.10" height="129.40" fill="#fff" stroke="#363636" stroke-width="1.2"/>
<g font-family="'Liberation Sans', sans-serif" font-size="17.0" fill="#000" stroke="#000" stroke-width="0.35">
<path d="M376.80 190.30H386.40M381.60 185.50V195.10M378.21 186.91L384.99 193.69M378.21 193.69L384.99 186.91" stroke="#0072BD" stroke-width="1.2" fill="none"/>
<text transform="translate(409.6 196.50) scale(1.045 1)">v = 0km/h</text>
<path d="M376.80 211.40H386.40M381.60 206.60V216.20M378.21 208.01L384.99 214.79M378.21 214.79L384.99 208.01" stroke="#D95319" stroke-width="1.2" fill="none"/>
<text transform="translate(409.6 217.60) scale(1.045 1)">v = 30km/h</text>
<path d="M376.80 232.50H386.40M381.60 227.70V237.30M378.21 229.11L384.99 235.89M378.21 235.89L384.99 229.11" stroke="#77AC30" stroke-width="1.2" fill="none"/>
<text transform="translate(409.6 238.70) scale(1.045 1)">v = 60km/h</text>
<path d="M376.80 253.60H386.40M381.60 248.80V258.40M378.21 250.21L384.99 256.99M378.21 256.99L384.99 250.21" stroke="#EDB120" stroke-width="1.2" fill="none"/>
<text transform="translate(409.6 259.80) scale(1.045 1)">v = 90km/h</text>
<path d="M376.80 274.60H386.40M381.60 269.80V279.40M378.21 271.21L384.99 277.99M378.21 277.99L384.99 271.21" stroke="#A2142F" stroke-width="1.2" fill="none"/>
<text transform="translate(409.6 280.80) scale(1.045 1)">v = 120km/h</text>
<path d="M356.8 295.8H405.3" stroke="#9e9e9e" stroke-width="1.95"/>
<text transform="translate(409.6 302.00) scale(1.045 1)">Fitting curve</text>
</g>
</svg>
</body></html>
